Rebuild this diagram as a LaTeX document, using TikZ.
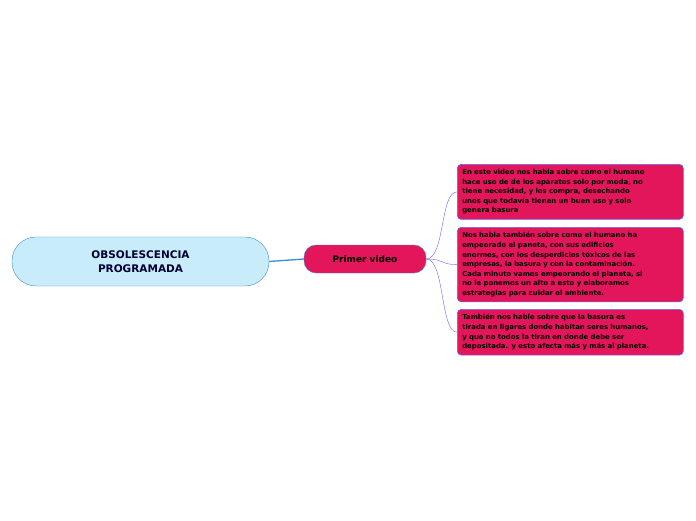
\documentclass[tikz,border=0pt]{standalone}
\usepackage{fontspec}
\setmainfont{DejaVu Sans}
\begin{document}
\begin{tikzpicture}[x=1pt,y=-1pt,
  leaf/.style={draw=blue!60!white, fill=pinkc, rounded corners=4pt, line width=0.6pt, minimum width=226pt, align=left, inner sep=5pt, font=\bfseries\fontsize{6.9}{9.6}\selectfont, anchor=north west, text width=216pt},
  link/.style={draw=blue!60!white, line width=0.4pt}]
\definecolor{pinkc}{HTML}{E3165B}
\definecolor{lblue}{HTML}{C8ECFA}
\definecolor{bord}{HTML}{3C8DD0}
\useasboundingbox (0,0) rectangle (696,520);
\node[draw=bord, fill=lblue, rounded corners=24pt, minimum width=257pt, minimum height=49pt, font=\bfseries\fontsize{10.5}{14}\selectfont, align=center, text=blue!20!black] (root) at (140.5,261.5) {OBSOLESCENCIA\\PROGRAMADA};
\node[draw=bord, fill=pinkc, rounded corners=12pt, minimum width=122pt, minimum height=28pt, font=\bfseries\fontsize{9}{11}\selectfont] (pv) at (365,259) {Primer video};
\draw[bord, line width=1.3pt] (root.east) -- (pv.west);
\node[leaf, minimum height=55pt] (a) at (457,164) {En este video nos habla sobre como el humano\\hace uso de de los aparatos solo por moda, no\\tiene necesidad, y los compra, desechando\\unos que todavía tienen un buen uso y solo\\genera basura};
\node[leaf, minimum height=74pt] (b) at (457,227) {Nos habla también sobre como el humano ha\\empeorado el paneta, con sus edificios\\enormes, con los desperdicios tóxicos de las\\empresas, la basura y con la contaminación.\\Cada minuto vamos empeorando el planeta, si\\no le ponemos un alto a esto y elaboramos\\estrategias para cuidar el ambiente.};
\node[leaf, minimum height=45pt] (c) at (457,309) {También nos hable sobre que la basura es\\tirada en ligares donde habitan seres humanos,\\y que no todos la tiran en donde debe ser\\depositada. y esto afecta más y más al planeta.};
\foreach \n in {a,b,c}
  \draw[link] (pv.east) .. controls (445,259) and (440,0|-\n.west) .. (\n.west);
\end{tikzpicture}
\end{document}
